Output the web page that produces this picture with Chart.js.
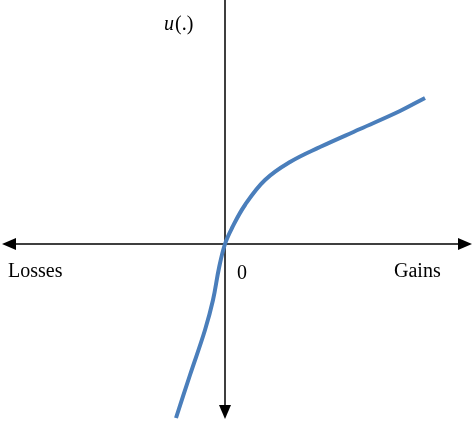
<!DOCTYPE html>
<html><head><meta charset="utf-8">
<script src="https://cdn.jsdelivr.net/npm/chart.js@4/dist/chart.umd.min.js"></script>
<style>html,body{margin:0;padding:0;background:#fff}#w{width:474px;height:421px}</style>
</head><body><div id="w"><canvas id="c"></canvas></div>
<script>
const outcomes = [-49,-35,-20,-12,-6,0,7,20,40,65,95,135,175,200];
const utility  = [-174,-131,-86,-56,-24,0,16,39,64,82,97,115,133,146];
const xRange = [-225, 249];
const yRange = [-177, 244];
const labels = {y:"u(.)", neg:"Losses", zero:"0", pos:"Gains"};

const axesPlugin = {
  id:'axes',
  beforeDatasetsDraw(chart){
    const {ctx, scales:{x,y}} = chart;
    const ox = x.getPixelForValue(0), oy = y.getPixelForValue(0);
    const L = x.getPixelForValue(xRange[0])+2, R = x.getPixelForValue(xRange[1])-2;
    const T = y.getPixelForValue(yRange[1])-20, B = y.getPixelForValue(yRange[0])-2;
    ctx.save();
    ctx.strokeStyle='#000'; ctx.fillStyle='#000'; ctx.lineWidth=1.5;
    ctx.beginPath(); ctx.moveTo(L+8,oy); ctx.lineTo(R-8,oy); ctx.moveTo(ox,T+8); ctx.lineTo(ox,B-8); ctx.stroke();
    const head=(pts)=>{ctx.beginPath();ctx.moveTo(...pts[0]);ctx.lineTo(...pts[1]);ctx.lineTo(...pts[2]);ctx.closePath();ctx.fill();};
    head([[L,oy],[L+14,oy-6],[L+14,oy+6]]);
    head([[R,oy],[R-14,oy-6],[R-14,oy+6]]);
    head([[ox,T],[ox-6,T+14],[ox+6,T+14]]);
    head([[ox,B],[ox-6,B-14],[ox+6,B-14]]);
    ctx.font='20px "Liberation Serif"'; ctx.textBaseline='alphabetic';
    ctx.textAlign='left';
    ctx.fillText(labels.neg, 8, oy+33);
    ctx.fillText(labels.zero, ox+12, oy+35);
    ctx.fillText(labels.pos, 394, oy+33);
    ctx.font='italic 20px "Liberation Serif"';
    ctx.fillText('u', 164, 30);
    ctx.font='20px "Liberation Serif"';
    ctx.fillText('(.)', 175, 30);
    ctx.restore();
  }
};

new Chart(document.getElementById('c'), {
  type:'scatter',
  data:{datasets:[{data:outcomes.map((v,i)=>({x:v,y:utility[i]})), showLine:true, tension:0.4,
    borderColor:'#4a7ebb', borderWidth:4, pointRadius:0, fill:false}]},
  options:{responsive:true, maintainAspectRatio:false, animation:false,
    layout:{padding:0},
    plugins:{legend:{display:false}, tooltip:{enabled:false}},
    scales:{x:{type:'linear',min:xRange[0],max:xRange[1],display:false},
            y:{type:'linear',min:yRange[0],max:yRange[1],display:false}}},
  plugins:[axesPlugin]
});
</script></body></html>
